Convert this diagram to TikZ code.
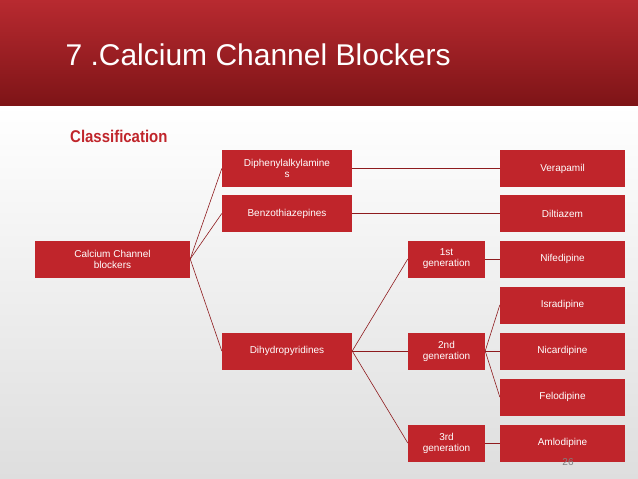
\documentclass[tikz,border=0pt]{standalone}
\usepackage{fontspec}
\setmainfont{Liberation Sans}
\begin{document}
\begin{tikzpicture}[x=1pt,y=-1pt,
  box/.style={fill=boxred,text=white,minimum height=37pt,inner sep=1pt,align=center,font=\fontsize{10}{11}\selectfont},
  conn/.style={draw=linered,line width=0.6pt}]
\definecolor{boxred}{HTML}{C0252B}
\definecolor{linered}{HTML}{8E1B1E}
\definecolor{headtop}{HTML}{B82A30}
\definecolor{headbot}{HTML}{7E1417}
\definecolor{bgbot}{HTML}{DEDEDE}
\useasboundingbox (0,0) rectangle (638,479);
\shade[top color=white,bottom color=bgbot] (0,105) rectangle (638,479);
\shade[top color=headtop,bottom color=headbot] (0,0) rectangle (638,105);
\node[anchor=west,text=white,font=\fontsize{30}{34}\selectfont] (title) at (62,55) {7 .Calcium Channel Blockers};
\node[anchor=west,text=boxred,font=\fontsize{17}{20}\selectfont\bfseries,inner sep=0] (cls) at (70,136) {\addfontfeature{FakeStretch=0.88}Classification};
\node[box,minimum width=155pt] (ccb) at (112.5,259) {Calcium Channel\\blockers};
\node[box,minimum width=130pt] (dpa) at (287,168.5) {Diphenylalkylamine\\s};
\node[box,minimum width=130pt] (btz) at (287,213.5) {Benzothiazepines};
\node[box,minimum width=130pt] (dhp) at (287,351) {Dihydropyridines};
\node[box,minimum width=77pt] (g1) at (446.5,259) {1st\\generation};
\node[box,minimum width=77pt] (g2) at (446.5,351) {2nd\\generation};
\node[box,minimum width=77pt] (g3) at (446.5,443) {3rd\\generation};
\node[box,minimum width=125pt] (ver) at (562.5,168.5) {Verapamil};
\node[box,minimum width=125pt] (dil) at (562.5,213.5) {Diltiazem};
\node[box,minimum width=125pt] (nif) at (562.5,259) {Nifedipine};
\node[box,minimum width=125pt] (isr) at (562.5,305) {Isradipine};
\node[box,minimum width=125pt] (nic) at (562.5,351) {Nicardipine};
\node[box,minimum width=125pt] (fel) at (562.5,397) {Felodipine};
\node[box,minimum width=125pt] (aml) at (562.5,443) {Amlodipine};
\node[text=gray,font=\fontsize{10}{11}\selectfont] (pg) at (568,462) {26};
\draw[conn] (ccb.east) -- (dpa.west);
\draw[conn] (ccb.east) -- (btz.west);
\draw[conn] (ccb.east) -- (dhp.west);
\draw[conn] (dpa.east) -- (ver.west);
\draw[conn] (btz.east) -- (dil.west);
\draw[conn] (dhp.east) -- (g1.west);
\draw[conn] (dhp.east) -- (g2.west);
\draw[conn] (dhp.east) -- (g3.west);
\draw[conn] (g1.east) -- (nif.west);
\draw[conn] (g2.east) -- (isr.west);
\draw[conn] (g2.east) -- (nic.west);
\draw[conn] (g2.east) -- (fel.west);
\draw[conn] (g3.east) -- (aml.west);
\end{tikzpicture}
\end{document}
